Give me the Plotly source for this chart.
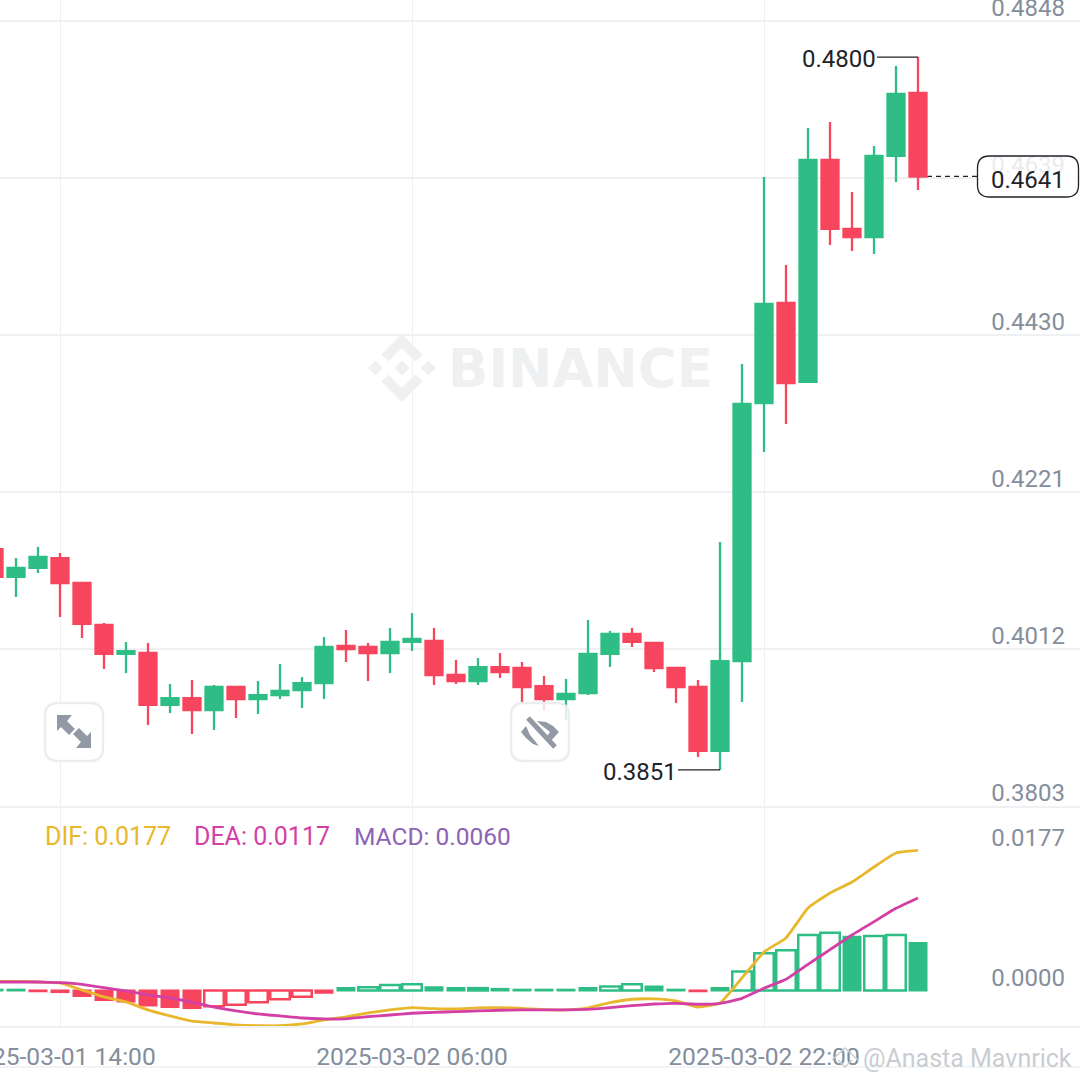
import pandas as pd
import plotly.graph_objects as go

# hourly candles, first one is cut by the left edge
times = pd.date_range("2025-03-01 11:00", periods=43, freq="h")

opens = [.41451, .41079, .41199, .41331, .40999, .40441, .40054, .40067, .39375, .39467,
         .39308, .39614, .39454, .39507, .39574, .39667, .40160, .40147, .40067, .40214,
         .40227, .39774, .39694, .39880, .39867, .39627, .39454, .39534, .40054, .40320,
         .40200, .39867, .39614, .38763, .39960, .43395, .44727, .43675, .46630, .45712,
         .45605, .46684, .47522]
highs = [.41465, .41331, .41478, .41398, .40999, .40467, .40214, .40200, .39654, .39707,
         .39640, .39614, .39694, .39920, .39747, .40280, .40374, .40200, .40401, .40600,
         .40401, .39974, .40000, .40067, .39947, .39760, .39720, .40507, .40360, .40401,
         .40200, .39867, .39707, .41544, .43914, .46404, .45232, .47056, .47136, .46204,
         .46817, .47881, .4800]
lows = [.41066, .40813, .41132, .40547, .40267, .39854, .39800, .39109, .39269, .38989,
        .39042, .39202, .39255, .39454, .39335, .39454, .39947, .39694, .39800, .40093,
        .39640, .39654, .39640, .39734, .39401, .39308, .39175, .39507, .39880, .40147,
        .39814, .39401, .38683, .3851, .39415, .42743, .43116, .43675, .45499, .45419,
        .45379, .46337, .46231]
closes = [.41079, .41199, .41345, .40999, .40454, .40054, .40093, .39375, .39467, .39308,
          .39614, .39454, .39507, .39561, .39667, .40147, .40120, .40067, .40214, .40254,
          .39774, .39694, .39880, .39814, .39614, .39454, .39521, .40054, .40320, .40214,
          .39867, .39614, .38763, .39960, .43382, .44713, .43661, .46630, .45712, .45605,
          .46684, .47509, .4641]

macd = [.0001, .0001, -.0001, -.0002, -.0007, -.0012, -.0014, -.0019, -.0021, -.0022,
        -.0020, -.0018, -.0015, -.0011, -.0008, -.0003, .0003, .0004, .0007, .0008,
        .0004, .0003, .0003, .0002, .0001, .0001, .0001, .0003, .0005, .0008,
        .0005, .0001, -.0001, .0003, .0024, .0047, .0051, .0070, .0073, .0068,
        .0069, .0070, .0060]
hollow = [10, 11, 12, 13, 14, 17, 18, 19, 22, 28, 29, 34, 35, 36, 37, 38, 40, 41]

dif = [.00114, .00114, .00107, .00095, .00006, -.00082, -.00145, -.00246, -.00322, -.00386,
       -.00411, -.00436, -.00445, -.00445, -.00423, -.00373, -.00335, -.00284, -.00246, -.00217,
       -.00230, -.00234, -.00221, -.00217, -.00225, -.00243, -.00246, -.00221, -.00154, -.00111,
       -.00107, -.00133, -.00209, -.00158, .00158, .00487, .00664, .01043, .01232, .01371,
       .01561, .01738, .0177]
dea = [.00107, .00107, .00107, .00099, .00078, .00035, -.00006, -.00057, -.00095, -.00149,
       -.00209, -.00259, -.00297, -.00322, -.00348, -.00360, -.00360, -.00331, -.00310, -.00288,
       -.00276, -.00268, -.00259, -.00250, -.00246, -.00246, -.00246, -.00238, -.00217, -.00192,
       -.00171, -.00162, -.00174, -.00162, -.00099, .00028, .00142, .00331, .00516, .00702,
       .00870, .01039, .0117]

price_ticks = [0.3803, 0.4012, 0.4221, 0.4430, 0.4639, 0.4848]
macd_ticks = [0.0, 0.0177]
time_ticks = ["2025-03-01 14:00", "2025-03-02 06:00", "2025-03-02 22:00"]

GREEN = "#2EBD85"
RED = "#F8455E"
GREY = "#848E9C"
DARK = "#1E2329"
GRID = "#EEF0F2"
FONT = "Roboto"
HOUR = 3600000
SIZE = 1080


def px(x, y):
    return f"{x / SIZE:.5f} {1 - y / SIZE:.5f}"


def poly(points):
    return "M " + " L ".join(px(x, y) for x, y in points) + " Z"


def rounded(x0, y0, x1, y1, r):
    return (f"M {px(x0 + r, y0)} L {px(x1 - r, y0)} Q {px(x1, y0)} {px(x1, y0 + r)} "
            f"L {px(x1, y1 - r)} Q {px(x1, y1)} {px(x1 - r, y1)} "
            f"L {px(x0 + r, y1)} Q {px(x0, y1)} {px(x0, y1 - r)} "
            f"L {px(x0, y0 + r)} Q {px(x0, y0)} {px(x0 + r, y0)} Z")


fig = go.Figure()

fig.add_trace(go.Candlestick(
    x=times, open=opens, high=highs, low=lows, close=closes,
    xaxis="x", yaxis="y", whiskerwidth=0,
    increasing=dict(line=dict(color=GREEN, width=2.3), fillcolor=GREEN),
    decreasing=dict(line=dict(color=RED, width=2.3), fillcolor=RED),
    showlegend=False,
))

# MACD histogram, filled bars and hollow bars are separate traces
solid_idx = [i for i in range(len(macd)) if i not in hollow]
fig.add_trace(go.Bar(
    x=[times[i] for i in solid_idx], y=[macd[i] for i in solid_idx],
    xaxis="x2", yaxis="y2", width=HOUR * 17 / 22,
    marker=dict(color=[GREEN if macd[i] > 0 else RED for i in solid_idx],
                line=dict(color=[GREEN if macd[i] > 0 else RED for i in solid_idx], width=2)),
    showlegend=False,
))
fig.add_trace(go.Bar(
    x=[times[i] for i in hollow], y=[macd[i] for i in hollow],
    xaxis="x2", yaxis="y2", width=HOUR * 19.5 / 22,
    marker=dict(color="white",
                line=dict(color=[GREEN if macd[i] > 0 else RED for i in hollow], width=2.5)),
    showlegend=False,
))
fig.add_trace(go.Scatter(x=times, y=dif, mode="lines", xaxis="x2", yaxis="y2",
                         line=dict(color="#E8B72C", width=2.8, shape="spline", smoothing=0.4), showlegend=False))
fig.add_trace(go.Scatter(x=times, y=dea, mode="lines", xaxis="x2", yaxis="y2",
                         line=dict(color="#D43FA5", width=2.8, shape="spline", smoothing=0.4), showlegend=False))

shapes = []

# watermark logo
cx, cy = 402, 368
logo = "#EEF0F1"
for dx in (-26.5, 0, 26.5):
    shapes.append(dict(type="path", xref="paper", yref="paper", layer="below", fillcolor=logo, line_width=0,
                       path=poly([(cx + dx, cy - 7.5), (cx + dx + 7.5, cy), (cx + dx, cy + 7.5), (cx + dx - 7.5, cy)])))
for s in (-1, 1):
    shapes.append(dict(type="path", xref="paper", yref="paper", layer="below", fillcolor=logo, line_width=0,
                       path=poly([(cx, cy + s * 34), (cx + 20.5, cy + s * 13.5), (cx + 13.5, cy + s * 6.5), (cx, cy + s * 20),
                                  (cx - 13.5, cy + s * 6.5), (cx - 20.5, cy + s * 13.5)])))

# last price dashed line and high / low callouts
shapes.append(dict(type="line", xref="x", yref="y", layer="below", x0=times[-1], x1=times[-1] + pd.Timedelta(hours=2.68),
                   y0=closes[-1], y1=closes[-1], line=dict(color=DARK, width=1.4, dash="5px,4px")))
shapes.append(dict(type="line", xref="x", yref="y", x0=times[-1] - pd.Timedelta(hours=1.86), x1=times[-1],
                   y0=highs[-1], y1=highs[-1], line=dict(color=DARK, width=1.2)))
shapes.append(dict(type="line", xref="x", yref="y", x0=times[33] - pd.Timedelta(hours=1.91), x1=times[33],
                   y0=lows[33], y1=lows[33], line=dict(color=DARK, width=1.2)))

# last price box
shapes.append(dict(type="path", xref="paper", yref="paper", fillcolor="rgba(255,255,255,0.82)",
                   line=dict(color=DARK, width=1.3), path=rounded(977.5, 156, 1078.5, 197, 12)))

# bottom rule
shapes.append(dict(type="line", xref="paper", yref="paper", x0=0, x1=1, y0=1 - 1067 / SIZE, y1=1 - 1067 / SIZE,
                   line=dict(color=GRID, width=1.5)))

# the two round buttons
for x0, x1 in ((45, 103), (511, 569)):
    shapes.append(dict(type="path", xref="paper", yref="paper", fillcolor="rgba(255,255,255,0.82)",
                       line=dict(color="#EBEDEF", width=2.5), path=rounded(x0, 703, x1, 761, 13)))
icon = "#9299A5"
arrow = [(57, 715), (72, 715), (67, 721), (75, 729), (69, 735), (61, 727), (57, 731)]
shapes.append(dict(type="path", xref="paper", yref="paper", fillcolor=icon, line_width=0, path=poly(arrow)))
shapes.append(dict(type="path", xref="paper", yref="paper", fillcolor=icon, line_width=0,
                   path=poly([(148 - x, 1463 - y) for x, y in arrow])))
shapes.append(dict(type="path", xref="paper", yref="paper", line=dict(color=icon, width=5),
                   path=f"M {px(528, 718)} L {px(555, 747)}"))
shapes.append(dict(type="path", xref="paper", yref="paper", fillcolor=icon, line_width=0,
                   path=poly([(537, 721), (546, 722), (553, 726), (559, 732), (549, 743), (545, 739), (550, 732), (545, 728), (541, 725)])))
shapes.append(dict(type="path", xref="paper", yref="paper", fillcolor=icon, line_width=0,
                   path=poly([(526, 726), (521, 732), (526, 738), (533, 744), (539, 746), (535, 741), (530, 735)])))

# small repost mark next to the handle
shapes.append(dict(type="path", xref="paper", yref="paper", line=dict(color="#C9CDD2", width=1.5),
                   path=f"M {px(832, 1060)} L {px(845, 1048)} L {px(858, 1060)} M {px(838, 1060)} L {px(845, 1067)} L {px(852, 1060)}"))

annotations = [
    dict(text="BINANCE", x=580 / SIZE, y=1 - 368 / SIZE, font=dict(family="DejaVu Sans", size=53, color=logo, weight="bold")),
    dict(text="DIF: 0.0177", x=108 / SIZE, y=1 - 836 / SIZE, font=dict(family=FONT, size=25, color="#E8B72C")),
    dict(text="DEA: 0.0117", x=261.5 / SIZE, y=1 - 836 / SIZE, font=dict(family=FONT, size=25, color="#D43FA5")),
    dict(text="MACD: 0.0060", x=432 / SIZE, y=1 - 836 / SIZE, font=dict(family=FONT, size=24.5, color="#8E63B5")),
    dict(text="0.4641", x=1028 / SIZE, y=1 - 180 / SIZE, font=dict(family=FONT, size=24, color=DARK)),
    dict(text="0.4800", x=839 / SIZE, y=1 - 59 / SIZE, font=dict(family=FONT, size=24, color=DARK)),
    dict(text="0.3851", x=640 / SIZE, y=1 - 772 / SIZE, font=dict(family=FONT, size=24, color=DARK)),
    dict(text="@Anasta Mavnrick", x=967 / SIZE, y=1 - 1058 / SIZE,
         font=dict(family=FONT, size=25, color="#C9CDD2", shadow="0 0 2px white")),
]
for a in annotations:
    a.update(xref="paper", yref="paper", showarrow=False, xanchor="center", yanchor="middle")

x_range = ["2025-03-01 11:16:22", "2025-03-03 12:21:49"]
tick_font = dict(family=FONT, size=24, color=GREY)

fig.update_layout(
    width=SIZE, height=SIZE,
    margin=dict(l=0, r=0, t=0, b=0, pad=0),
    paper_bgcolor="white", plot_bgcolor="rgba(0,0,0,0)",
    barmode="overlay", boxgap=0.227, boxgroupgap=0,
    shapes=shapes, annotations=annotations,
    xaxis=dict(domain=[0, 1], range=x_range, anchor="y", type="date", rangeslider=dict(visible=False),
               showticklabels=False, tickvals=time_ticks, showgrid=True, gridcolor=GRID, gridwidth=1,
               zeroline=False, showline=True, linecolor=GRID, linewidth=1.5, ticks="", automargin=False),
    xaxis2=dict(domain=[0, 1], range=x_range, anchor="y2", type="date",
                tickvals=time_ticks, ticktext=time_ticks, tickfont=dict(family=FONT, size=24.6, color=GREY),
                ticklabeloverflow="allow", ticklabelstandoff=8, ticks="",
                showgrid=True, gridcolor=GRID, gridwidth=1, zeroline=False,
                showline=True, linecolor=GRID, linewidth=1.5, automargin=False),
    yaxis=dict(domain=[1 - 806 / SIZE, 1], range=[0.3803, 0.4876], anchor="x", side="right",
               tickvals=price_ticks, tickformat=".4f", tickfont=tick_font,
               ticklabelposition="inside", ticklabeloverflow="allow", ticklabelstandoff=12, ticklabelshift=-13,
               showgrid=True, gridcolor=GRID, gridwidth=1.5, zeroline=False, ticks="", automargin=False),
    yaxis2=dict(domain=[1 - 1026 / SIZE, 1 - 806 / SIZE], range=[-0.00449, 0.02332], anchor="x2", side="right",
                tickvals=macd_ticks, tickformat=".4f", tickfont=tick_font,
                ticklabelposition="inside", ticklabeloverflow="allow", ticklabelstandoff=12, ticklabelshift=-13,
                showgrid=False, zeroline=False, ticks="", automargin=False),
)

fig.write_html("out.html", config=dict(displayModeBar=False),
               post_script="document.body.style.margin='0';document.body.style.overflow='hidden';")
